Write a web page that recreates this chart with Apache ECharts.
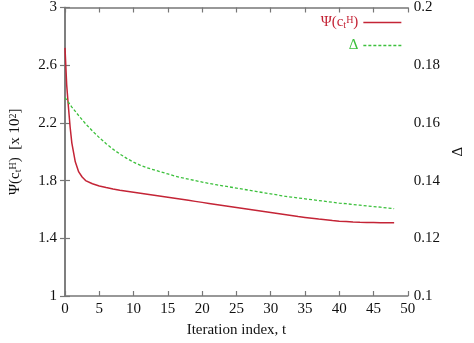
<!DOCTYPE html>
<html><head><meta charset="utf-8">
<script src="https://cdn.jsdelivr.net/npm/echarts@6/dist/echarts.min.js"></script>
<style>html,body{margin:0;padding:0;background:#fff}#c{width:474px;height:343px}</style>
</head><body><div id="c"></div>
<script>
// Iteration index t
const tRed = [0,0.25,0.5,0.75,1,1.5,2,2.5,3,4,5,6,7,8,9,10,11,12,13,14,15,16,17,18,19,20,21,22,23,24,25,26,27,28,29,30,31,32,33,34,35,36,37,38,39,40,41,42,43,44,45,46,47,48];
// Psi(c_t^H) [x 10^2] (left axis)
const psiValues = [2.72,2.46,2.31,2.17,2.06,1.93,1.86,1.825,1.80,1.778,1.763,1.752,1.742,1.733,1.726,1.719,1.712,1.705,1.698,1.691,1.684,1.677,1.670,1.663,1.656,1.649,1.642,1.635,1.628,1.621,1.614,1.607,1.600,1.593,1.586,1.579,1.572,1.565,1.558,1.551,1.545,1.539,1.533,1.528,1.523,1.519,1.516,1.513,1.511,1.510,1.509,1.508,1.508,1.508];
// Iteration index t for Delta
const tGreen = [0,1,2,3,4,5,6,7,8,9,10,11,12,13,14,15,16,17,18,19,20,21,22,23,24,25,26,27,28,29,30,31,32,33,34,35,36,37,38,39,40,41,42,43,44,45,46,47,48];
// Delta (right axis)
const deltaValues = [0.1688,0.1655,0.1625,0.1597,0.1572,0.1549,0.1528,0.1509,0.1492,0.1477,0.1464,0.1453,0.1444,0.1437,0.1430,0.1423,0.1416,0.1410,0.1405,0.1400,0.1395,0.1390,0.1386,0.1382,0.1378,0.1374,0.1370,0.1366,0.1362,0.1358,0.1354,0.1350,0.1346,0.1343,0.1340,0.1337,0.1334,0.1331,0.1328,0.1325,0.1322,0.1320,0.1317,0.1315,0.1312,0.1310,0.1308,0.1305,0.1303];

const FONT = 'Liberation Serif';
const AX = '#777';
const RED = '#c42436';
const GREEN = '#3cc03c';
const chart = echarts.init(document.getElementById('c'), null, {renderer:'canvas'});
const axisLine = {show:true, lineStyle:{color:AX, width:1.5}};
const axisTick = {show:true, inside:true, length:5, lineStyle:{color:AX, width:1.2}};
const lbl = {color:'#111', fontFamily:FONT, fontSize:15};
chart.setOption({
  animation:false,
  textStyle:{fontFamily:FONT},
  grid:{left:55, right:51, top:5, bottom:40, containLabel:false},
  legend:{
    orient:'vertical', right:67, top:10, align:'right', itemWidth:38, itemHeight:10, itemGap:8,
    itemStyle:{opacity:0, borderWidth:0, color:'transparent'},
    lineStyle:{width:1.3},
    data:[
      {name:'psi', textStyle:{color:RED}},
      {name:'delta', textStyle:{color:GREEN}}
    ],
    formatter:function(n){ return n==='psi' ? 'Ψ(c{sub|t}{sup|H})' : 'Δ'; },
    textStyle:{fontFamily:FONT, fontSize:15, rich:{
      sub:{fontSize:10, fontFamily:FONT, verticalAlign:'bottom', color:RED},
      sup:{fontSize:10, fontFamily:FONT, verticalAlign:'top', color:RED}
    }}
  },
  xAxis:[
    {type:'value', min:0, max:50, interval:5, position:'bottom',
     axisLine:axisLine, axisTick:axisTick, splitLine:{show:false},
     axisLabel:Object.assign({margin:6}, lbl),
     name:'Iteration index, t', nameLocation:'middle', nameGap:27,
     nameTextStyle:{color:'#111', fontFamily:FONT, fontSize:15}},
    {type:'value', min:0, max:50, interval:5, position:'top',
     axisLine:axisLine, axisTick:axisTick, splitLine:{show:false}, axisLabel:{show:false}}
  ],
  yAxis:[
    {type:'value', min:1, max:3, interval:0.4, position:'left',
     axisLine:axisLine, axisTick:axisTick, splitLine:{show:false},
     axisLabel:Object.assign({margin:8, formatter:v=>String(+v.toFixed(1))}, lbl),
     name:'Ψ(c{sub|t}{sup|H})  [x 10{sup|2}]', nameLocation:'middle', nameGap:42, nameRotate:90,
     nameTextStyle:{color:'#111', fontFamily:FONT, fontSize:15, rich:{
       sub:{fontSize:10, fontFamily:FONT, verticalAlign:'bottom', color:'#111'},
       sup:{fontSize:10, fontFamily:FONT, verticalAlign:'top', color:'#111'}
     }}},
    {type:'value', min:0.1, max:0.2, interval:0.02, position:'right',
     axisLine:axisLine, axisTick:axisTick, splitLine:{show:false},
     axisLabel:Object.assign({margin:6, formatter:v=>String(+v.toFixed(2))}, lbl),
     name:'Δ', nameLocation:'middle', nameGap:38, nameRotate:90,
     nameTextStyle:{color:'#111', fontFamily:FONT, fontSize:15}}
  ],
  series:[
    {name:'psi', type:'line', xAxisIndex:0, yAxisIndex:0, showSymbol:false, symbol:'none', smooth:false,
     data:tRed.map((t,i)=>[t, psiValues[i]]),
     lineStyle:{color:RED, width:1.5}, itemStyle:{color:RED}},
    {name:'delta', type:'line', xAxisIndex:0, yAxisIndex:1, showSymbol:false, symbol:'none', smooth:false,
     data:tGreen.map((t,i)=>[t, deltaValues[i]]),
     lineStyle:{color:GREEN, width:1.3, type:[3,2]}, itemStyle:{color:GREEN}}
  ]
});
</script></body></html>
